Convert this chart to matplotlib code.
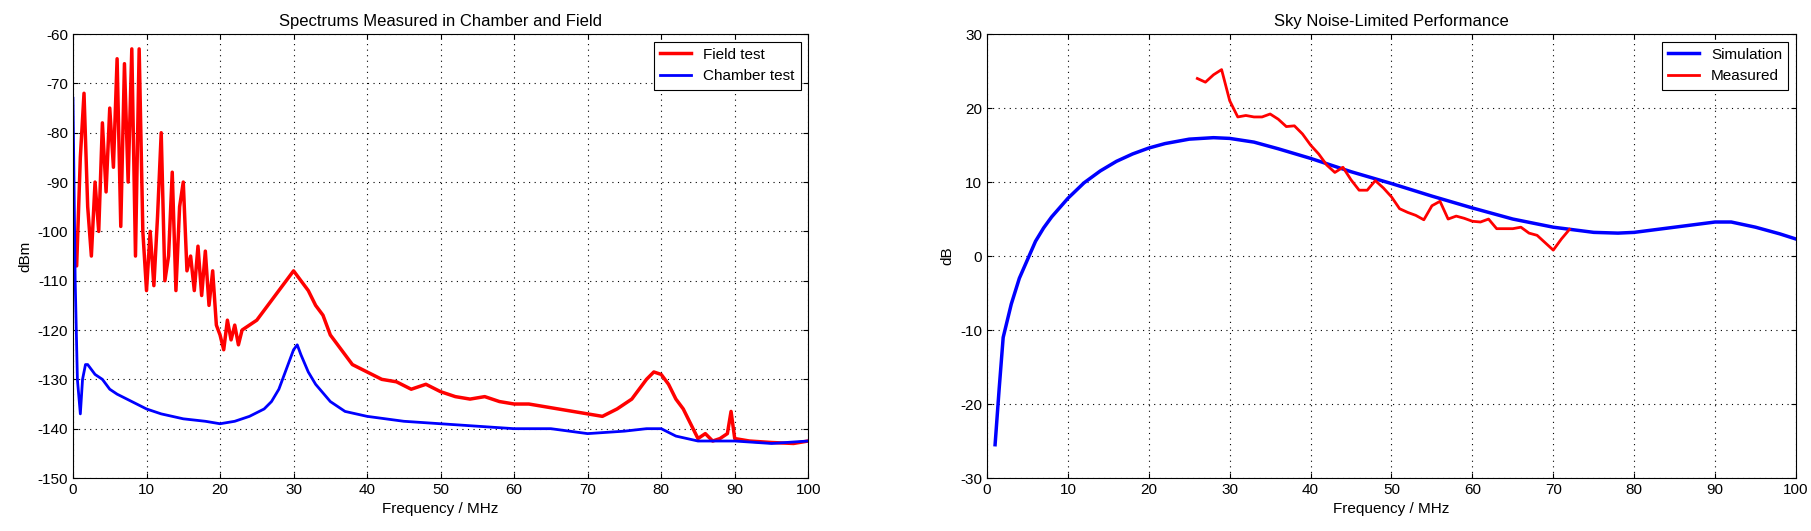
import numpy as np
import matplotlib
matplotlib.use("Agg")
import matplotlib.pyplot as plt

plt.rcParams['font.family'] = ['Liberation Sans', 'DejaVu Sans']
plt.rcParams['font.size'] = 11
plt.rcParams['axes.unicode_minus'] = False

# Left: spectrums
field_f = [0, 0.5, 1, 1.5, 2, 2.5, 3, 3.5, 4, 4.5, 5, 5.5, 6, 6.5, 7, 7.5, 8, 8.5, 9, 9.5,
           10, 10.5, 11, 11.5, 12, 12.5, 13, 13.5, 14, 14.5, 15, 15.5, 16, 16.5, 17, 17.5,
           18, 18.5, 19, 19.5, 20, 20.5, 21, 21.5, 22, 22.5, 23, 24, 25, 26, 27, 28, 29,
           30, 31, 32, 33, 34, 35, 36, 37, 38, 40, 42, 44, 46, 48, 50, 52, 54, 56, 58, 60,
           62, 64, 66, 68, 70, 72, 74, 76, 78, 79, 80, 81, 82, 83, 84, 85, 86, 87, 88, 89,
           89.5, 90, 92, 95, 98, 100]
field_db = [-100, -107, -85, -72, -95, -105, -90, -100, -78, -92, -75, -87, -65, -99, -66,
            -90, -63, -105, -63, -100, -112, -100, -111, -97, -80, -110, -105, -88, -112,
            -95, -90, -108, -105, -112, -103, -113, -104, -115, -108, -119, -121, -124,
            -118, -122, -119, -123, -120, -119, -118, -116, -114, -112, -110, -108, -110,
            -112, -115, -117, -121, -123, -125, -127, -128.5, -130, -130.5, -132, -131,
            -132.5, -133.5, -134, -133.5, -134.5, -135, -135, -135.5, -136, -136.5, -137,
            -137.5, -136, -134, -130, -128.5, -129, -131, -134, -136, -139, -142, -141,
            -142.5, -142, -141, -136.5, -142, -142.5, -142.8, -143, -142.5]
chamber_f = [0, 0.3, 0.6, 1, 1.3, 1.7, 2, 3, 4, 5, 6, 8, 10, 12, 15, 18, 20, 22, 24, 26,
             27, 28, 29, 30, 30.5, 31, 32, 33, 35, 37, 40, 45, 50, 55, 60, 65, 70, 75, 78,
             80, 82, 85, 90, 95, 100]
chamber_db = [-73, -110, -130, -137, -130, -127, -127, -129, -130, -132, -133, -134.5, -136,
              -137, -138, -138.5, -139, -138.5, -137.5, -136, -134.5, -132, -128, -124,
              -123, -125, -128.5, -131, -134.5, -136.5, -137.5, -138.5, -139, -139.5, -140,
              -140, -141, -140.5, -140, -140, -141.5, -142.5, -142.5, -143, -142.5]

# Right: sky noise-limited performance
sim_f = [1, 1.5, 2, 3, 4, 5, 6, 7, 8, 10, 12, 14, 16, 18, 20, 22, 25, 28, 30, 33, 36, 40,
         45, 50, 55, 60, 65, 70, 75, 78, 80, 85, 90, 92, 95, 98, 100]
sim_db = [-25.5, -18, -11, -6.5, -3, -0.5, 2, 3.8, 5.3, 7.8, 9.9, 11.5, 12.8, 13.8, 14.6,
          15.2, 15.8, 16, 15.9, 15.4, 14.5, 13.2, 11.4, 9.8, 8.1, 6.5, 5, 3.9, 3.2, 3.1,
          3.2, 3.9, 4.6, 4.6, 3.9, 3, 2.3]
meas_f = list(range(26, 73))
meas_db = [24, 23.5, 24.5, 25.2, 21, 18.8, 19, 18.8, 18.8, 19.2, 18.5, 17.5, 17.6, 16.5,
           15, 13.8, 12.3, 11.3, 12, 10.3, 8.9, 8.9, 10.2, 9.2, 8, 6.4, 5.9, 5.5, 4.9, 6.8,
           7.4, 5, 5.4, 5.1, 4.7, 4.6, 5, 3.7, 3.7, 3.7, 3.9, 3.1, 2.8, 1.8, 0.8, 2.3, 3.6]

fig = plt.figure(figsize=(18.11, 5.31), dpi=100)
ax1 = fig.add_axes([0.0403, 0.0998, 0.406, 0.836])
ax2 = fig.add_axes([0.545, 0.0998, 0.4467, 0.836])

ax1.plot(field_f, field_db, color='red', lw=2.5, label='Field test')
ax1.plot(chamber_f, chamber_db, color='blue', lw=2, label='Chamber test')
ax1.set_xlim(0, 100)
ax1.set_ylim(-150, -60)
ax1.set_yticks(np.arange(-150, -59, 10))
ax1.set_title('Spectrums Measured in Chamber and Field', fontsize=12)
ax1.set_ylabel('dBm')

ax2.plot(sim_f, sim_db, color='blue', lw=2.5, label='Simulation')
ax2.plot(meas_f, meas_db, color='red', lw=2, label='Measured')
ax2.set_xlim(0, 100)
ax2.set_ylim(-30, 30)
ax2.set_yticks(np.arange(-30, 31, 10))
ax2.set_title('Sky Noise-Limited Performance', fontsize=12)
ax2.set_ylabel('dB')

for ax in (ax1, ax2):
    ax.set_xticks(np.arange(0, 101, 10))
    ax.set_xlabel('Frequency / MHz')
    ax.grid(True, color='black', lw=0.8, dashes=(1, 4))
    ax.tick_params(direction='in', top=True, right=True)
    leg = ax.legend(loc='upper right', fancybox=False, edgecolor='black', framealpha=1)
    leg.get_frame().set_linewidth(0.8)

fig.savefig('out.png', dpi=100)
